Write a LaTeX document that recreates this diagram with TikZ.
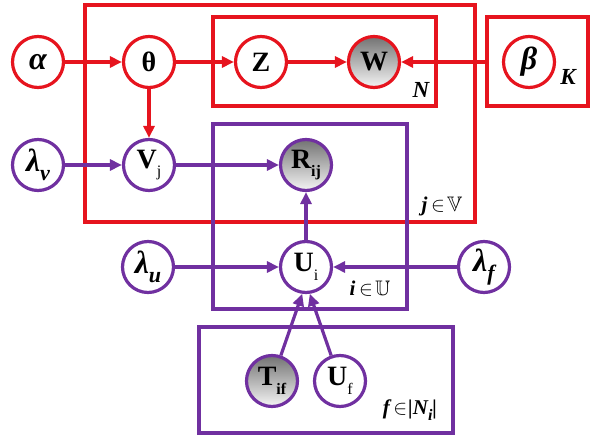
\documentclass[tikz,border=0pt]{standalone}
\usepackage{amssymb}
\usepackage{fontspec}
\setmainfont{Liberation Serif}
\usetikzlibrary{arrows.meta}
\definecolor{myred}{RGB}{230,20,30}
\definecolor{mypurple}{RGB}{112,48,160}
\newcommand{\lowsub}[1]{\raisebox{-0.3em}{\fontsize{16}{16}\selectfont #1}}
\newcommand{\greeksub}[1]{\raisebox{-0.3em}{\fontsize{22}{22}\selectfont #1}}
\tikzset{
  var/.style={circle,draw,line width=3.2pt,minimum size=51pt,inner sep=0pt,fill=white,
    font=\fontsize{28}{28}\selectfont\bfseries},
  obs/.style={var,top color=black!55,bottom color=black!4},
  rednode/.style={draw=myred},
  purnode/.style={draw=mypurple},
  plate/.style={draw,line width=3.2pt},
  greek/.style={font=\fontsize{32}{32}\selectfont\bfseries\itshape},
  redarr/.style={draw=myred,line width=3.2pt,-{Triangle[length=12pt,width=11pt]}},
  purarr/.style={draw=mypurple,line width=3.2pt,-{Triangle[length=12pt,width=11pt]}},
  platelabel/.style={font=\fontsize{23}{23}\selectfont\bfseries\itshape,inner sep=0pt},
  smlabel/.style={platelabel,font=\fontsize{21}{21}\selectfont\bfseries\itshape}
}
\begin{document}
\begin{tikzpicture}[x=1pt,y=-1pt]
\useasboundingbox (0,0) rectangle (596,443);
% plates
\draw[plate,myred] (85,5) rectangle (475,222);
\draw[plate,myred] (213,17) rectangle (436,106);
\draw[plate,myred] (487,17) rectangle (588,106);
\draw[plate,mypurple] (213,124) rectangle (407,309);
\draw[plate,mypurple] (199,327) rectangle (453,433);
% nodes
\node[var,rednode,greek] (alpha) at (38,62) {α};
\node[var,rednode] (theta) at (149,62) {θ};
\node[var,rednode] (Z) at (261,62) {Z};
\node[obs,rednode] (W) at (374,62) {W};
\node[var,rednode,greek] (beta) at (529,62) {β};
\node[var,purnode,greek] (lv) at (38,165) {λ\greeksub{v}};
\node[var,purnode] (Vj) at (149,165) {V\lowsub{\mdseries j}};
\node[obs,purnode] (Rij) at (306,165) {R\lowsub{ij}};
\node[var,purnode,greek] (lu) at (148,267) {λ\greeksub{u}};
\node[var,purnode] (Ui) at (306,267) {U\lowsub{\mdseries i}};
\node[var,purnode,greek] (lf) at (484,267) {λ\greeksub{f}};
\node[obs,purnode] (Tif) at (272,381) {T\lowsub{if}};
\node[var,purnode] (Uf) at (340,381) {U\lowsub{\mdseries f}};
% plate labels
\node[platelabel] (labN) at (421,90) {N};
\node[platelabel] (labK) at (568,77) {K};
\node[smlabel] (labV) at (442,206) {j\,$\in\!\mathbb{V}$};
\node[smlabel] (labU) at (370,289) {i\,$\in\!\mathbb{U}$};
\node[smlabel] (labF) at (410,410) {f\,$\in$\kern1pt|N\lowsub{i}|};
\coordinate (Kedge) at (487,62);
% edges
\draw[redarr] (alpha) -- (theta);
\draw[redarr] (theta) -- (Z);
\draw[redarr] (Z) -- (W);
\draw[redarr] (Kedge) -- (W);
\draw[redarr] (theta) -- (Vj);
\draw[purarr] (lv) -- (Vj);
\draw[purarr] (Vj) -- (Rij);
\draw[purarr] (Ui) -- (Rij);
\draw[purarr] (lu) -- (Ui);
\draw[purarr] (lf) -- (Ui);
\draw[purarr] (Tif) -- (Ui.-98);
\draw[purarr] (Uf) -- (Ui.-82);
\end{tikzpicture}
\end{document}
